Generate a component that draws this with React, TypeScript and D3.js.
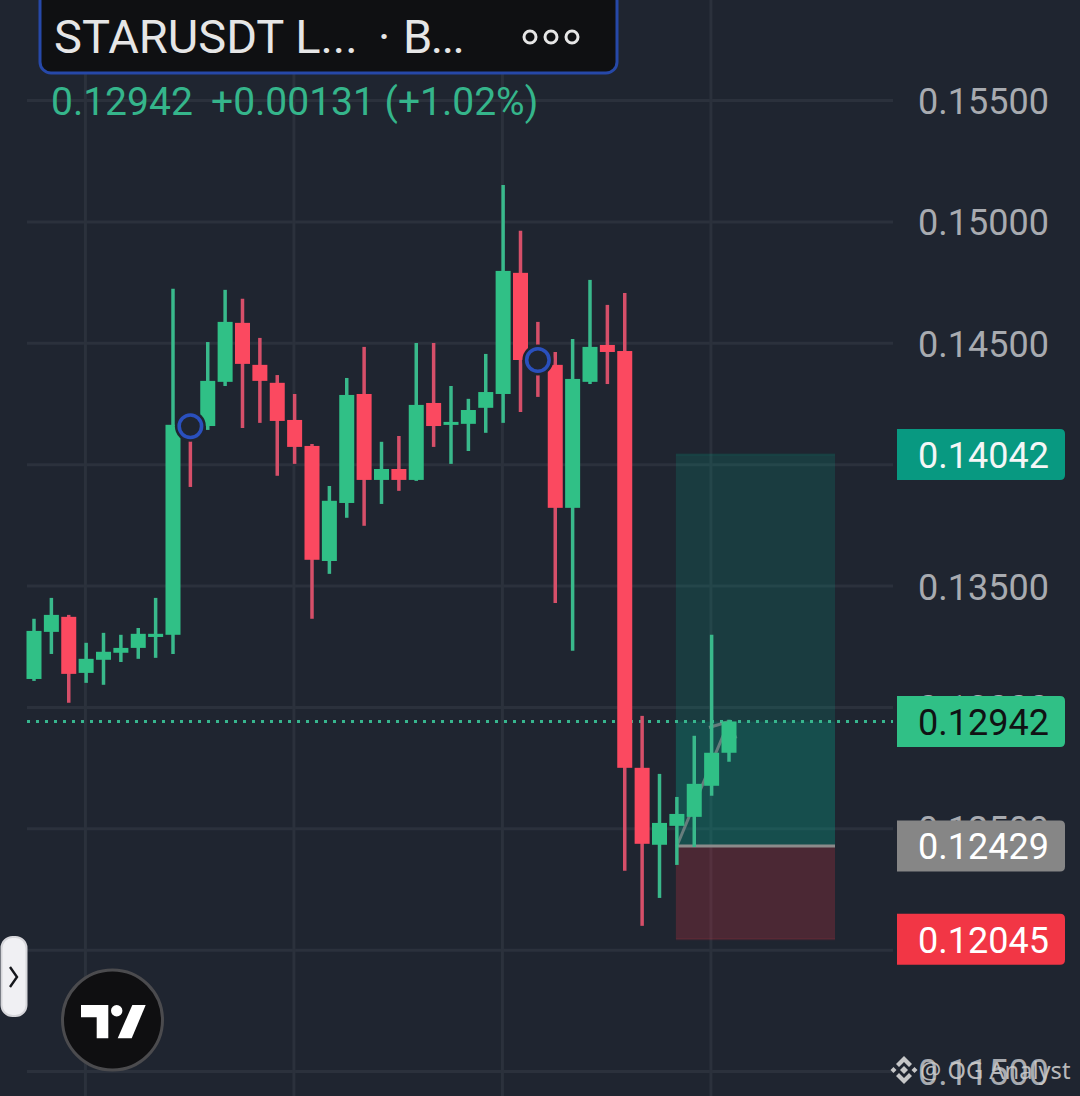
import React from "react";
import * as d3 from "d3";

const opens = [0.13117,0.13311,0.13373,0.13142,0.13196,0.13225,0.13245,0.1329,0.13299,0.14164,0.14159,0.14341,0.14584,0.14411,0.14337,0.14184,0.14077,0.13603,0.13842,0.14291,0.13937,0.13982,0.13937,0.14254,0.14164,0.14168,0.14234,0.14291,0.1479,0.14444,0.14411,0.13822,0.14341,0.14493,0.14468,0.12751,0.12434,0.12512,0.12549,0.12677,0.12813];
const closes = [0.13315,0.13381,0.13138,0.132,0.13229,0.13245,0.13303,0.13303,0.14164,0.14151,0.14345,0.14588,0.14415,0.14345,0.1418,0.14073,0.13608,0.13851,0.14287,0.13937,0.13982,0.13937,0.14246,0.14159,0.14176,0.14225,0.14299,0.14798,0.14431,0.14415,0.13822,0.14353,0.14485,0.14464,0.12751,0.12438,0.12524,0.12561,0.12685,0.12813,0.12942];
const highs = [0.13365,0.13451,0.13381,0.13266,0.13307,0.13299,0.13327,0.13451,0.14724,0.1422,0.14505,0.1472,0.14683,0.14522,0.14369,0.14291,0.14085,0.13912,0.14357,0.14485,0.14094,0.14118,0.14501,0.14501,0.14324,0.14271,0.14456,0.15152,0.14963,0.14588,0.14464,0.14518,0.14761,0.14658,0.14707,0.12965,0.12726,0.12631,0.12883,0.13299,0.12949];
const lows = [0.13109,0.1322,0.13019,0.13101,0.13093,0.13187,0.132,0.13204,0.1322,0.13908,0.14143,0.14324,0.14151,0.14172,0.13954,0.14003,0.13365,0.1355,0.13781,0.13748,0.13838,0.13892,0.13933,0.14073,0.14003,0.14056,0.14131,0.14172,0.14217,0.14279,0.1343,0.13233,0.14332,0.14332,0.12327,0.121,0.12215,0.12351,0.12425,0.12636,0.12776];

const yTicks = [0.155,0.15,0.145,0.14,0.135,0.13,0.125,0.12,0.115];
const timeGridIndex = [3,15,27,39];
const markerIndex = [9,29];
const markerPrice = [0.14158,0.14431];

const takeProfit = 0.14042;
const entry = 0.12429;
const stopLoss = 0.12045;
const lastPrice = 0.12942;
const positionStartIndex = 37;
const pathEndIndex = 40;

const GREEN = "#30c086";
const RED = "#fb4960";
const WICK_GREEN = "#39b98b";
const WICK_RED = "#d64f69";
const BG = "#1f2530";
const GRID = "#2b313c";
const FONT = "Roboto, sans-serif";

const x = d3.scaleLinear().domain([0, 40]).range([34, 729]);
const y = d3.scaleLinear().domain([0.155, 0.115]).range([100.5, 1071.5]);
const fmt = d3.format(".5f");

function Badge({ price, fill, color }: { price: number; fill: string; color: string }) {
  const c = y(price);
  const t = c - 25.5, b = c + 25.5, l = 897, r = 1065, q = 5;
  const d = `M${l},${t}H${r - q}Q${r},${t} ${r},${t + q}V${b - q}Q${r},${b} ${r - q},${b}H${l}Z`;
  return (
    <g>
      <path d={d} fill={fill} />
      <text x={1049} y={c + 13.5} textAnchor="end" fontFamily={FONT} fontSize={36} fill={color}>{fmt(price)}</text>
    </g>
  );
}

export default function App() {
  const left = x(positionStartIndex) - 1;
  const right = 835;
  const tip = { x: x(pathEndIndex), y: y(lastPrice) };
  const start = { x: x(positionStartIndex), y: y(entry) };
  return (
    <svg width={1080} height={1096} viewBox="0 0 1080 1096" style={{ position: "absolute", left: 0, top: 0, display: "block" }}>
      <rect width={1080} height={1096} fill={BG} />
      {/* grid */}
      {yTicks.map((t) => (
        <line key={t} x1={27} x2={893} y1={y(t)} y2={y(t)} stroke={GRID} strokeWidth={3} />
      ))}
      {timeGridIndex.map((i) => (
        <line key={i} x1={x(i) - 0.7} x2={x(i) - 0.7} y1={0} y2={1096} stroke={GRID} strokeWidth={3} />
      ))}
      {/* axis labels */}
      {yTicks.map((t) => (
        <text key={t} x={1049} y={y(t) + 13.5} textAnchor="end" fontFamily={FONT} fontSize={36} fill="#a8abb0">{fmt(t)}</text>
      ))}
      {/* position */}
      <rect x={left} y={y(takeProfit)} width={right - left} height={y(lastPrice) - y(takeProfit)} fill="#089981" fillOpacity={0.2} />
      <line x1={left} x2={right} y1={y(takeProfit)} y2={y(takeProfit)} stroke="#089981" strokeOpacity={0.15} strokeWidth={2} />
      <rect x={left} y={y(lastPrice)} width={right - left} height={y(entry) - y(lastPrice)} fill="#089981" fillOpacity={0.36} />
      <rect x={left} y={y(entry)} width={right - left} height={y(stopLoss) - y(entry)} fill="#f23645" fillOpacity={0.21} />
      <line x1={left} x2={right} y1={y(stopLoss)} y2={y(stopLoss)} stroke="#f23645" strokeOpacity={0.12} strokeWidth={2} />
      <line x1={left} x2={right} y1={y(entry)} y2={y(entry)} stroke="#8b8b8b" strokeWidth={3} />
      <line x1={27} x2={893} y1={y(lastPrice)} y2={y(lastPrice)} stroke="#37b68e" strokeWidth={3} strokeDasharray="3 6" />
      {/* price path arrow */}
      <g stroke="#9c9c9c" strokeWidth={3} fill="none" opacity={0.6}>
        <line x1={start.x} y1={start.y} x2={tip.x} y2={tip.y} />
        <line x1={tip.x} y1={tip.y} x2={tip.x - 20} y2={tip.y + 6} />
        <line x1={tip.x} y1={tip.y} x2={tip.x + 7} y2={tip.y + 17} />
      </g>
      {/* candles */}
      {opens.map((o, i) => {
        const c = closes[i];
        const up = c >= o;
        const top = y(Math.max(o, c));
        const bot = y(Math.min(o, c));
        return (
          <g key={i}>
            <line x1={x(i)} x2={x(i)} y1={y(highs[i])} y2={y(lows[i])} stroke={up ? WICK_GREEN : WICK_RED} strokeWidth={3.5} />
            <rect x={x(i) - 7.5} y={top} width={15} height={Math.max(bot - top, 3)} fill={up ? GREEN : RED} />
          </g>
        );
      })}
      {/* markers */}
      {markerIndex.map((idx, k) => (
        <g key={idx}>
          <circle cx={x(idx)} cy={y(markerPrice[k])} r={15.5} fill={BG} />
          <circle cx={x(idx)} cy={y(markerPrice[k])} r={11.2} fill={BG} stroke="#2a50bd" strokeWidth={3.6} />
        </g>
      ))}
      {/* badges */}
      <Badge price={takeProfit} fill="#089981" color="#f4f6f6" />
      <Badge price={lastPrice} fill={GREEN} color="#101214" />
      <Badge price={entry} fill="#868686" color="#ffffff" />
      <Badge price={stopLoss} fill="#f23645" color="#ffffff" />
      {/* header */}
      <rect x={40} y={-10} width={577} height={83} rx={11} fill="#0f1012" stroke="#2648a8" strokeWidth={3} />
      <text x={54} y={53} fontFamily={FONT} fontSize={47} fill="#e6e6e6">STARUSDT L...</text>
      <text x={378} y={53} fontFamily={FONT} fontSize={47} fill="#e6e6e6">·</text>
      <text x={403} y={53} fontFamily={FONT} fontSize={47} letterSpacing={-1.5} fill="#e6e6e6">B...</text>
      {[530, 551, 572].map((cx) => (
        <circle key={cx} cx={cx} cy={37} r={6} fill="none" stroke="#e6e6e6" strokeWidth={3} />
      ))}
      <text x={51} y={115} fontFamily={FONT} fontSize={39} fill="#35b58b">0.12942</text>
      <text x={211} y={115} fontFamily={FONT} fontSize={39} fill="#35b58b">+0.00131 (+1.02%)</text>
      {/* side handle */}
      <rect x={1.5} y={937} width={25} height={79} rx={11} fill="#f0f0f3" stroke="#d6d6da" strokeWidth={2} />
      <path d="M10,967L17,977L10,987" fill="none" stroke="#15171b" strokeWidth={2.4} />
      {/* logo */}
      <circle cx={112.5} cy={1020} r={50} fill="#0f0f11" stroke="#4b4b4e" strokeWidth={3} />
      <path d="M81,1005H108.3V1038.3H96.7V1017.3H81Z" fill="#fff" />
      <circle cx={116.7} cy={1010.7} r={5.7} fill="#fff" />
      <path d="M132.3,1005H145.7L131.7,1038.3H117.7Z" fill="#fff" />
      {/* watermark */}
      <g fill="#d9d9d9" opacity={0.9}>
        <path d="M904,1066L908,1070L904,1074L900,1070Z" />
        <path d="M893.5,1067L896.5,1070L893.5,1073L890.5,1070Z" />
        <path d="M914.5,1067L917.5,1070L914.5,1073L911.5,1070Z" />
        <path d="M904,1056L912,1064L909,1067L904,1062L899,1067L896,1064Z" />
        <path d="M904,1084L912,1076L909,1073L904,1078L899,1073L896,1076Z" />
      </g>
      <text x={920} y={1079} fontFamily="'Noto Sans', sans-serif" fontSize={23.7} fill="#c9c9c9" opacity={0.9}>@ OG Analyst</text>
    </svg>
  );
}
